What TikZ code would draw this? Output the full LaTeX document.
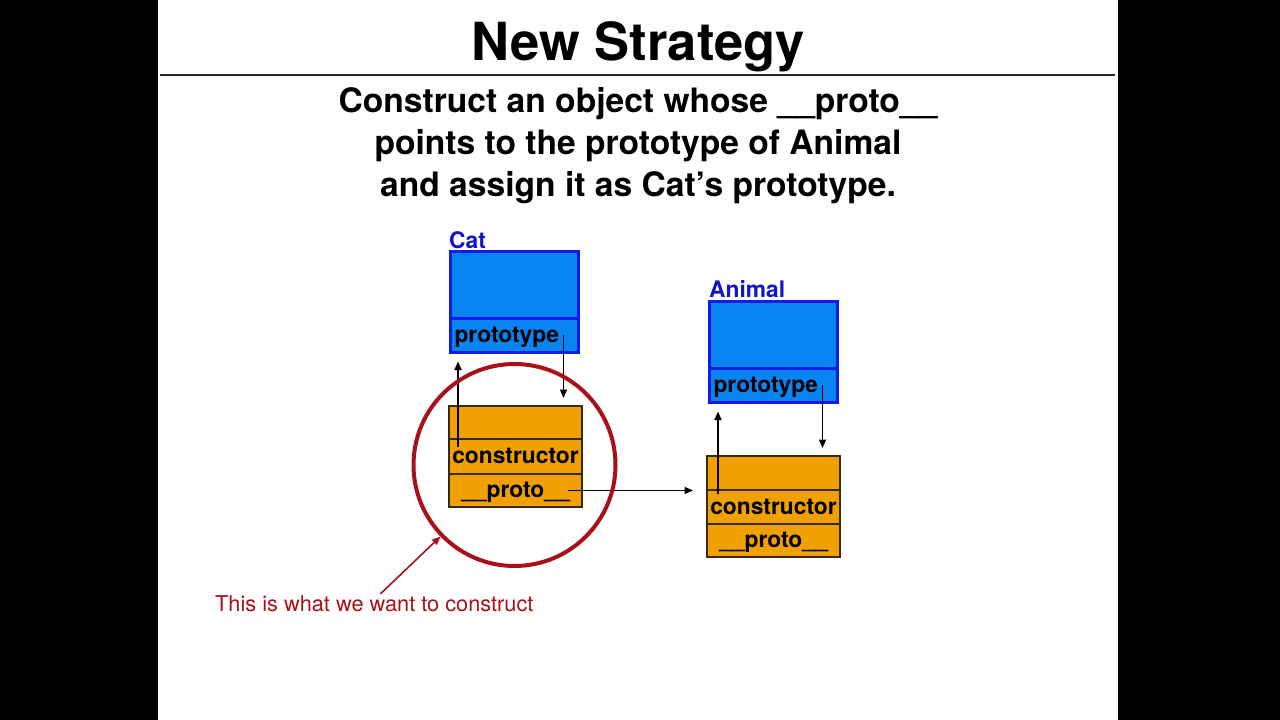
\documentclass[tikz,border=0pt]{standalone}
\usepackage{fontspec}
\setmainfont{TeX Gyre Heros}
\usetikzlibrary{arrows.meta,calc}
\definecolor{bluefill}{RGB}{8,132,242}
\definecolor{blueline}{RGB}{18,28,226}
\definecolor{labelblue}{RGB}{20,20,200}
\definecolor{orangefill}{RGB}{240,160,0}
\definecolor{orangeline}{RGB}{55,42,10}
\definecolor{circred}{RGB}{170,16,24}
\begin{document}
\begin{tikzpicture}[x=1pt,y=-1pt,
  boxfont/.style={font=\fontsize{22.8}{26}\selectfont\bfseries},
  bluebox/.style={draw=blueline, fill=bluefill, line width=3pt, minimum width=128pt,
    anchor=north west, inner sep=0pt, outer sep=0pt, boxfont, text width=120pt, align=left,
    text height=16pt, text depth=2pt},
  orangebox/.style={draw=orangeline, fill=orangefill, line width=1.3pt, minimum width=133pt,
    anchor=north west, inner sep=0pt, outer sep=0pt, boxfont, text width=130pt, align=center,
    text height=16pt, text depth=2pt},
  objlabel/.style={anchor=base west, inner sep=0pt, text=labelblue, boxfont},
  arr/.style={-{Triangle[length=8.5pt,width=7pt]}, line width=1.6pt, black},
  redarr/.style={-{Triangle[length=8.5pt,width=7pt]}, line width=1.6pt, circred},
  subline/.style={anchor=base, inner sep=0pt, font=\fontsize{33.6}{40}\selectfont\bfseries}
]
\useasboundingbox (0,0) rectangle (1280,720);
\fill[white] (0,0) rectangle (1280,720);
\fill[black] (0,0) rectangle (158,720);
\fill[black] (1118,0) rectangle (1280,720);

% title
\node[anchor=base, inner sep=0pt, font=\fontsize{52.5}{60}\selectfont\bfseries] (title) at (638,60) {New Strategy};
\draw[line width=1.8pt, black!85] (160,75) -- (1115,75);

\node[subline] (sub1) at (638,112) {Construct an object whose \_\_proto\_\_};
\node[subline] (sub2) at (638,154) {points to the prototype of Animal};
\node[subline] (sub3) at (638,196) {and assign it as Cat’s prototype.};

% Cat
\node[objlabel] (catLbl) at (449,248) {Cat};
\node[bluebox, minimum height=67pt] (catTop) at (450.5,251.5) {};
\node[bluebox, minimum height=34pt] (catProto) at (450.5,318.5) {prototype};

\node[orangebox, minimum height=33pt] (catOtop) at (449,406) {};
\node[orangebox, minimum height=35pt] (catCons) at (449,439) {constructor};
\node[orangebox, minimum height=33pt] (catP) at (449,474) {\_\_proto\_\_};

% Animal
\node[objlabel] (aniLbl) at (709,297) {Animal};
\node[bluebox, minimum height=67pt] (aniTop) at (709.5,301.5) {};
\node[bluebox, minimum height=34pt] (aniProto) at (709.5,368.5) {prototype};

\node[orangebox, minimum height=34pt] (aniOtop) at (707,456) {};
\node[orangebox, minimum height=34pt] (aniCons) at (707,490) {constructor};
\node[orangebox, minimum height=33pt] (aniP) at (707,524) {\_\_proto\_\_};

% arrows Cat
\draw[arr, shorten >=8pt] ([xshift=-15pt,yshift=1pt]catProto.east) -- ([xshift=-15pt]catProto.east |- catOtop.north);
\draw[arr, shorten >=9pt] ([xshift=9pt,yshift=10pt]catCons.west) -- ([xshift=9pt]catCons.west |- catProto.south);
\draw[arr, shorten >=14pt] ([xshift=-14pt]catP.east) -- (catP.east -| aniOtop.west);

% arrows Animal
\draw[arr, shorten >=8pt] ([xshift=-15pt,yshift=1pt]aniProto.east) -- ([xshift=-15pt]aniProto.east |- aniOtop.north);
\draw[arr, shorten >=9pt] ([xshift=11pt,yshift=13pt]aniCons.west) -- ([xshift=11pt]aniCons.west |- aniProto.south);

% circle and note
\node[circle, draw=circred, line width=4pt, minimum size=202pt, inner sep=0pt] (circ) at (514.5,465) {};
\node[anchor=base west, inner sep=0pt, text=circred, font=\fontsize{21.75}{26}\selectfont] (note) at (215,611) {This is what we want to construct};
\draw[redarr] ([xshift=6pt,yshift=1pt]note.north) -- (circ.224);
\end{tikzpicture}
\end{document}
